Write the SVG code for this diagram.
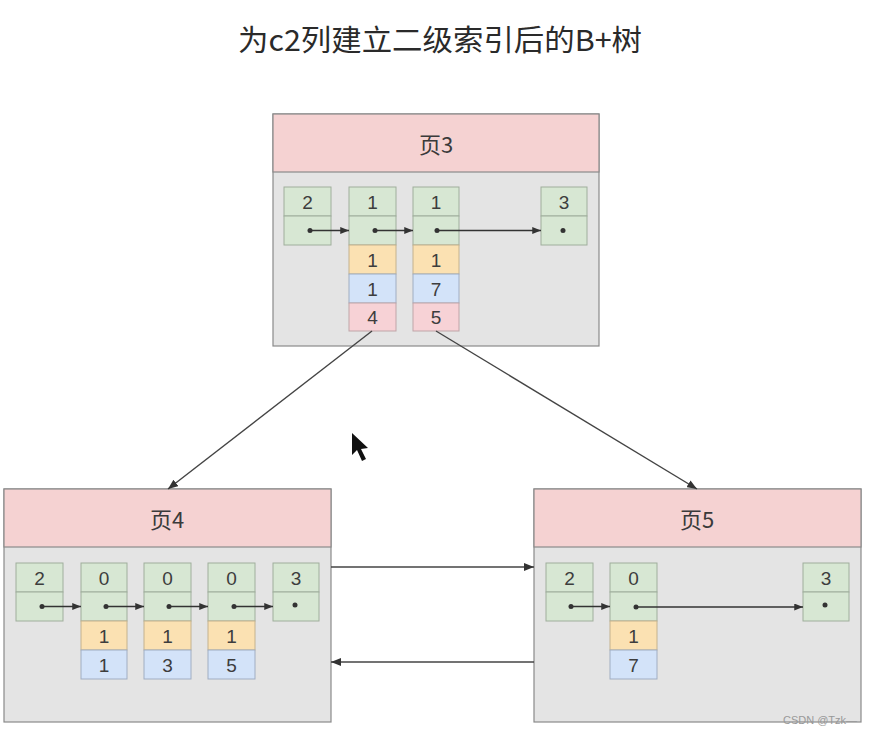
<svg xmlns="http://www.w3.org/2000/svg" width="877" height="734" viewBox="0 0 877 734">
<defs>
<marker id="ah" viewBox="0 0 10 8" refX="10" refY="4" markerWidth="10" markerHeight="8" markerUnits="userSpaceOnUse" orient="auto">
<path d="M0,0 L10,4 L0,8 Z" fill="#333"/>
</marker>
<marker id="ahs" viewBox="0 0 10 8" refX="10" refY="4" markerWidth="9" markerHeight="7" markerUnits="userSpaceOnUse" orient="auto">
<path d="M0,0 L10,4 L0,8 Z" fill="#333"/>
</marker>
<style>
.hdr{fill:#f5d2d2;stroke:#8a8a8a;stroke-width:1.2}
.body{fill:#e4e4e4;stroke:#8a8a8a;stroke-width:1.2}
.g{fill:#d7e7d3;stroke:#9fae9c;stroke-width:1}
.y{fill:#fbe1b2;stroke:#c4b28e;stroke-width:1}
.b{fill:#d3e3f9;stroke:#a0adc2;stroke-width:1}
.p{fill:#f7d2d6;stroke:#bfa5a8;stroke-width:1}
.t{font-family:"Liberation Sans","Noto Sans",sans-serif;font-size:19px;fill:#3d3d3d;text-anchor:middle}
.ht{font-family:"Noto Sans CJK SC","Noto Sans",sans-serif;font-size:22px;fill:#3a3a3a;text-anchor:middle}
.dot{fill:#333}
.ptr{stroke:#333;stroke-width:1.4;fill:none;marker-end:url(#ahs)}
.edge{stroke:#444;stroke-width:1.4;fill:none;marker-end:url(#ah)}
</style>
</defs>
<rect width="877" height="734" fill="#ffffff"/>
<text x="440" y="51" font-family="Noto Sans CJK SC, Noto Sans, sans-serif" font-size="29" fill="#2a2a2a" text-anchor="middle" textLength="404" lengthAdjust="spacingAndGlyphs">为c2列建立二级索引后的B+树</text>

<g id="page3">
<rect class="body" x="273" y="114" width="326" height="232"/>
<rect class="hdr" x="273" y="114" width="326" height="58"/>
<text class="ht" x="436" y="153">页3</text>
<rect class="g" x="284" y="187" width="47" height="29"/><rect class="g" x="284" y="216" width="47" height="29"/>
<text class="t" x="307.5" y="209">2</text><circle class="dot" cx="310" cy="230.5" r="2.5"/>
<rect class="g" x="349" y="187" width="47" height="29"/><rect class="g" x="349" y="216" width="47" height="29"/>
<rect class="y" x="349" y="245" width="47" height="29"/><rect class="b" x="349" y="274" width="47" height="29"/><rect class="p" x="349" y="303" width="47" height="28"/>
<text class="t" x="372.5" y="209">1</text><circle class="dot" cx="375" cy="230.5" r="2.5"/>
<text class="t" x="372.5" y="267">1</text><text class="t" x="372.5" y="296">1</text><text class="t" x="372.5" y="324">4</text>
<rect class="g" x="413" y="187" width="46" height="29"/><rect class="g" x="413" y="216" width="46" height="29"/>
<rect class="y" x="413" y="245" width="46" height="29"/><rect class="b" x="413" y="274" width="46" height="29"/><rect class="p" x="413" y="303" width="46" height="28"/>
<text class="t" x="436" y="209">1</text><circle class="dot" cx="437" cy="230.5" r="2.5"/>
<text class="t" x="436" y="267">1</text><text class="t" x="436" y="296">7</text><text class="t" x="436" y="324">5</text>
<rect class="g" x="541" y="187" width="46" height="29"/><rect class="g" x="541" y="216" width="46" height="29"/>
<text class="t" x="564" y="209">3</text><circle class="dot" cx="563" cy="230.5" r="2.5"/>
</g>

<g id="page4">
<rect class="body" x="4" y="489" width="327" height="233"/>
<rect class="hdr" x="4" y="489" width="327" height="58"/>
<text class="ht" x="167" y="528">页4</text>
<rect class="g" x="16" y="563" width="47" height="29"/><rect class="g" x="16" y="592" width="47" height="29"/>
<text class="t" x="39.5" y="585">2</text><circle class="dot" cx="42" cy="606.5" r="2.5"/>
<rect class="g" x="81" y="563" width="46" height="29"/><rect class="g" x="81" y="592" width="46" height="29"/>
<rect class="y" x="81" y="621" width="46" height="29"/><rect class="b" x="81" y="650" width="46" height="29"/>
<text class="t" x="104" y="585">0</text><circle class="dot" cx="106" cy="606.5" r="2.5"/>
<text class="t" x="104" y="643">1</text><text class="t" x="104" y="672">1</text>
<rect class="g" x="144" y="563" width="47" height="29"/><rect class="g" x="144" y="592" width="47" height="29"/>
<rect class="y" x="144" y="621" width="47" height="29"/><rect class="b" x="144" y="650" width="47" height="29"/>
<text class="t" x="167.5" y="585">0</text><circle class="dot" cx="169" cy="606.5" r="2.5"/>
<text class="t" x="167.5" y="643">1</text><text class="t" x="167.5" y="672">3</text>
<rect class="g" x="208" y="563" width="47" height="29"/><rect class="g" x="208" y="592" width="47" height="29"/>
<rect class="y" x="208" y="621" width="47" height="29"/><rect class="b" x="208" y="650" width="47" height="29"/>
<text class="t" x="231.5" y="585">0</text><circle class="dot" cx="234" cy="606.5" r="2.5"/>
<text class="t" x="231.5" y="643">1</text><text class="t" x="231.5" y="672">5</text>
<rect class="g" x="273" y="563" width="46" height="29"/><rect class="g" x="273" y="592" width="46" height="29"/>
<text class="t" x="296" y="585">3</text><circle class="dot" cx="295" cy="605" r="2.5"/>
</g>

<g id="page5">
<rect class="body" x="534" y="489" width="327" height="233"/>
<rect class="hdr" x="534" y="489" width="327" height="58"/>
<text class="ht" x="697" y="528">页5</text>
<rect class="g" x="546" y="563" width="47" height="29"/><rect class="g" x="546" y="592" width="47" height="29"/>
<text class="t" x="569.5" y="585">2</text><circle class="dot" cx="571" cy="606.5" r="2.5"/>
<rect class="g" x="610" y="563" width="47" height="29"/><rect class="g" x="610" y="592" width="47" height="29"/>
<rect class="y" x="610" y="621" width="47" height="29"/><rect class="b" x="610" y="650" width="47" height="29"/>
<text class="t" x="633.5" y="585">0</text><circle class="dot" cx="636" cy="607" r="2.5"/>
<text class="t" x="633.5" y="643">1</text><text class="t" x="633.5" y="672">7</text>
<rect class="g" x="803" y="563" width="46" height="29"/><rect class="g" x="803" y="592" width="46" height="29"/>
<text class="t" x="826" y="585">3</text><circle class="dot" cx="825" cy="605" r="2.5"/>
</g>

<g id="connectors">
<path class="ptr" d="M310,230.5 H349"/>
<path class="ptr" d="M375,230.5 H413"/>
<path class="ptr" d="M437,230.5 H541"/>
<path class="ptr" d="M42,606.5 H81"/>
<path class="ptr" d="M106,606.5 H144"/>
<path class="ptr" d="M169,606.5 H208"/>
<path class="ptr" d="M234,606.5 H273"/>
<path class="ptr" d="M571,606.5 H610"/>
<path class="ptr" d="M636,607 H803"/>
<path class="edge" d="M372,331 L168,489"/>
<path class="edge" d="M436,331 L697,489"/>
<path class="edge" d="M331,567 H534"/>
<path class="edge" d="M534,662 H331"/>
</g>

<path d="M352,433 L352,455 L357,450 L362,461 L366,459 L361,449 L368,448 Z" fill="#111"/>
<text x="820" y="724" font-family="Liberation Sans, sans-serif" font-size="11" fill="#999" text-anchor="middle">CSDN @Tzk—</text>
</svg>
